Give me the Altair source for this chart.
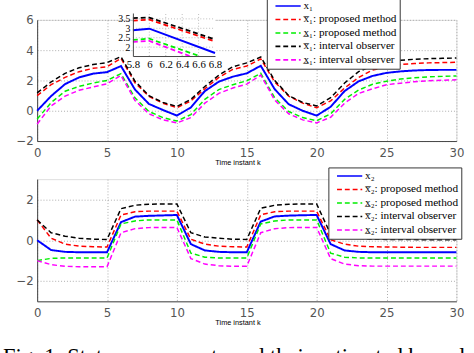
import altair as alt
import pandas as pd

k = list(range(31))

# ---- panel 1 (x1) ----
x1_true = [0, 0.97, 1.76, 2.2, 2.45, 2.55, 2.95, 1.4, 0.45, 0.05, -0.32, 0.22, 1.3, 1.92, 2.25, 2.47,
           2.97, 1.42, 0.43, 0.0, -0.32, 0.26, 1.3, 1.94, 2.3, 2.5, 2.6, 2.66, 2.69, 2.7, 2.7]
x1_up_pm = [1.0, 1.72, 2.2, 2.58, 2.8, 2.9, 3.45, 1.85, 0.95, 0.5, 0.2, 0.65, 1.45, 2.2, 2.73, 2.95,
            3.42, 1.9, 0.97, 0.5, 0.2, 0.65, 1.5, 2.2, 2.69, 2.9, 3.05, 3.12, 3.16, 3.18, 3.2]
x1_lo_pm = [-0.55, 0.54, 1.29, 1.61, 1.83, 2.0, 2.45, 0.85, -0.05, -0.45, -0.68, -0.25, 0.75, 1.4, 1.72, 1.98,
            2.47, 0.85, -0.05, -0.45, -0.66, -0.2, 0.75, 1.37, 1.75, 1.95, 2.1, 2.18, 2.24, 2.27, 2.3]
x1_up_io = [1.18, 1.9, 2.47, 2.84, 3.05, 3.18, 3.57, 1.95, 1.0, 0.55, 0.28, 0.75, 1.6, 2.35, 2.9, 3.16,
            3.55, 2.0, 1.0, 0.55, 0.32, 0.86, 1.83, 2.58, 2.97, 3.22, 3.33, 3.4, 3.44, 3.46, 3.48]
x1_lo_io = [-0.88, 0.32, 0.97, 1.35, 1.57, 1.78, 2.33, 0.68, -0.2, -0.6, -0.8, -0.45, 0.5, 1.15, 1.5, 1.76,
            2.35, 0.7, -0.2, -0.6, -0.8, -0.43, 0.5, 1.14, 1.45, 1.72, 1.82, 1.92, 1.98, 2.01, 2.04]

# inset (zoom of x1 around k = 6)
ins_k_true = [5.8, 6.0, 6.8]
ins_v_true = [2.9, 2.98, 1.69]
ins_k_up_pm = [5.8, 6.0, 6.8]
ins_v_up_pm = [3.41, 3.46, 2.3]
ins_k_lo_pm = [5.8, 6.0, 6.61]
ins_v_lo_pm = [2.38, 2.45, 1.53]
ins_k_up_io = [5.8, 6.0, 6.8]
ins_v_up_io = [3.54, 3.57, 2.41]
ins_k_lo_io = [5.8, 6.0, 6.49]
ins_v_lo_io = [2.28, 2.33, 1.53]
ins_xdom = [5.8, 6.8]
ins_ydom = [1.53, 3.81]
ins_xticks = [5.8, 6.0, 6.2, 6.4, 6.6, 6.8]
ins_yticks = [2.0, 2.5, 3.0, 3.5]

# ---- panel 2 (x2) ----
x2_true = [0, -0.48, -0.57, -0.59, -0.59, -0.59, 0.89, 1.16, 1.2, 1.22, 1.24, -0.19, -0.5, -0.57, -0.59, -0.59,
           0.92, 1.17, 1.21, 1.23, 1.24, -0.19, -0.5, -0.57, -0.59, -0.59, -0.59, -0.59, -0.59, -0.59, -0.59]
x2_up_pm = [1.0, 0.1, -0.19, -0.29, -0.32, -0.33, 1.24, 1.4, 1.43, 1.43, 1.43, 0.05, -0.19, -0.29, -0.32, -0.33,
            1.25, 1.4, 1.43, 1.43, 1.43, 0.02, -0.19, -0.29, -0.32, -0.33, -0.34, -0.35, -0.35, -0.35, -0.35]
x2_lo_pm = [-1.0, -0.89, -0.87, -0.87, -0.87, -0.87, 0.8, 0.95, 1.0, 1.0, 1.0, -0.63, -0.83, -0.87, -0.87, -0.87,
            0.8, 0.95, 1.0, 1.0, 1.0, -0.63, -0.83, -0.87, -0.87, -0.87, -0.87, -0.87, -0.87, -0.87, -0.87]
x2_up_io = [1.0, 0.37, 0.2, 0.1, 0.05, 0.04, 1.55, 1.72, 1.77, 1.78, 1.78, 0.37, 0.16, 0.1, 0.05, 0.04,
            1.57, 1.72, 1.77, 1.78, 1.78, 0.3, 0.16, 0.1, 0.05, 0.04, 0.03, 0.03, 0.02, 0.02, 0.02]
x2_lo_io = [-1.0, -1.2, -1.28, -1.3, -1.3, -1.3, 0.37, 0.57, 0.62, 0.63, 0.63, -0.9, -1.17, -1.25, -1.28, -1.28,
            0.37, 0.57, 0.62, 0.63, 0.63, -0.9, -1.17, -1.25, -1.27, -1.27, -1.27, -1.27, -1.27, -1.27, -1.27]

names1 = ["x\u2081", "x\u0305\u2081: proposed method", "x\u0332\u2081: proposed method",
          "x\u0305\u2081: interval observer", "x\u0332\u2081: interval observer"]
names2 = ["x\u2082", "x\u0305\u2082: proposed method", "x\u0332\u2082: proposed method",
          "x\u0305\u2082: interval observer", "x\u0332\u2082: interval observer"]
colors = ["#0000ff", "#ff0000", "#00ee00", "#000000", "#ff00ff"]
dashes = [[1, 0], [5, 3], [5, 3], [5, 3], [5, 3]]

caption = "Fig. 1: State components and their estimated bounds"
xlabel = "Time instant k"


def long_df(names, series, ks=None):
    rows = []
    for i, (n, vals) in enumerate(zip(names, series)):
        kk = ks[i] if ks is not None else k
        for a, v in zip(kk, vals):
            rows.append({"k": a, "v": v, "s": n, "c": colors[i]})
    return pd.DataFrame(rows)


df1 = long_df(names1, [x1_true, x1_up_pm, x1_lo_pm, x1_up_io, x1_lo_io])
df2 = long_df(names2, [x2_true, x2_up_pm, x2_lo_pm, x2_up_io, x2_lo_io])
dfi = long_df(names1, [ins_v_true, ins_v_up_pm, ins_v_lo_pm, ins_v_up_io, ins_v_lo_io],
              [ins_k_true, ins_k_up_pm, ins_k_lo_pm, ins_k_up_io, ins_k_lo_io])


def legend(x, y):
    return alt.Legend(title=None, orient="none", legendX=x, legendY=y, columns=1, direction="vertical",
                      symbolType="M-4.3,0H4.3", symbolSize=36, symbolStrokeWidth=1.6,
                      symbolOffset=13, labelOffset=10, labelLimit=200,
                      labelFont="Liberation Serif", labelFontSize=11.5, labelColor="black",
                      fillColor="white", strokeColor="#333",
                      padding=3, rowPadding=0.8)


def xaxis():
    return alt.Axis(values=list(range(0, 31, 5)), title=xlabel, titleFont="Liberation Sans",
                    titleFontSize=7.5, titleFontWeight="normal", titleColor="black",
                    titleY=22, titleX=205, titleBaseline="middle",
                    labelFont="DejaVu Sans", labelFontSize=12, labelColor="#555",
                    labelPadding=7, labelFlush=False, ticks=False, domainColor="#444",
                    gridDash=[1, 2], gridColor="#aaa")


def yaxis(vals):
    return alt.Axis(values=vals, title=None, labelFont="DejaVu Sans", labelFontSize=12,
                    labelColor="#555", labelPadding=4, ticks=False, domainColor="#444",
                    gridDash=[1, 2], gridColor="#aaa")


def panel_lines(df, names, ydom, yvals, leg):
    return alt.Chart(df).mark_line().encode(
        x=alt.X("k:Q", scale=alt.Scale(domain=[0, 30], nice=False), axis=xaxis()),
        y=alt.Y("v:Q", scale=alt.Scale(domain=ydom, nice=False), axis=yaxis(yvals)),
        color=alt.Color("s:N", scale=alt.Scale(domain=names, range=colors), legend=leg),
        strokeDash=alt.StrokeDash("s:N", scale=alt.Scale(domain=names, range=dashes), legend=leg),
        strokeWidth=alt.condition(alt.datum.s == names[0], alt.value(2), alt.value(1.5)),
    )


leg1 = legend(235, -23)
leg2 = legend(298, -12)

top_main = panel_lines(df1, names1, [-2, 6], [-2, 0, 2, 4, 6], leg1)

# inset
ixs = alt.Scale(domain=ins_xdom, range=[98, 182], nice=False, zero=False)
iys = alt.Scale(domain=ins_ydom, range=[37, -7], nice=False, zero=False)
ixa = alt.Axis(orient="bottom", offset=-87, values=ins_xticks, format="~g", zindex=1,
               grid=False, ticks=False, title=None, labelFont="Liberation Serif",
               labelFontSize=11, labelColor="black", labelOverlap=False,
               labelFlush=False, labelPadding=3, domainColor="#444")
iya = alt.Axis(orient="left", offset=-98, values=ins_yticks, format="~g", zindex=1,
               grid=False, ticks=False, title=None, labelFont="Liberation Serif", labelOverlap=False,
               labelFontSize=10, labelColor="black", labelPadding=3, domainColor="#444")

inset_bg = alt.Chart(pd.DataFrame({"a": [0]})).mark_rect(fill="white").encode(
    x=alt.X(datum=ins_xdom[0], scale=ixs, axis=ixa), x2=alt.X2(datum=ins_xdom[1]),
    y=alt.Y(datum=ins_ydom[0], scale=iys, axis=iya), y2=alt.Y2(datum=ins_ydom[1]))
inset_vgrid = alt.Chart(pd.DataFrame({"t": ins_xticks[1:-1]})).mark_rule(
    color="#aaa", strokeDash=[1, 2], strokeWidth=0.8).encode(
    x=alt.X("t:Q", scale=ixs, axis=ixa),
    y=alt.Y(datum=ins_ydom[0], scale=iys, axis=iya), y2=alt.Y2(datum=ins_ydom[1]))
inset_hgrid = alt.Chart(pd.DataFrame({"t": ins_yticks})).mark_rule(
    color="#aaa", strokeDash=[1, 2], strokeWidth=0.8).encode(
    y=alt.Y("t:Q", scale=iys, axis=iya),
    x=alt.X(datum=ins_xdom[0], scale=ixs, axis=ixa), x2=alt.X2(datum=ins_xdom[1]))

ienc = dict(
    x=alt.X("k:Q", scale=ixs, axis=ixa),
    y=alt.Y("v:Q", scale=iys, axis=iya),
    color=alt.Color("c:N", scale=None),
    detail="s:N",
)
inset_dashed = alt.Chart(dfi).transform_filter(alt.datum.s != names1[0]).mark_line(
    strokeWidth=1.8, strokeDash=[5, 3]).encode(**ienc)
inset_solid = alt.Chart(dfi).transform_filter(alt.datum.s == names1[0]).mark_line(strokeWidth=2).encode(**ienc)
inset = alt.layer(inset_bg, inset_vgrid, inset_hgrid, inset_dashed, inset_solid)

top = alt.layer(top_main, inset).resolve_scale(x="independent", y="independent").properties(width=429, height=124)

bottom = panel_lines(df2, names2, [-3, 3], [-2, 0, 2], leg2).properties(width=429, height=125)

chart = alt.vconcat(top, bottom, spacing=39, bounds="flush").resolve_scale(
    color="independent", strokeDash="independent"
).properties(
    title=alt.TitleParams(caption, orient="bottom", anchor="start", frame="group", dx=-35, offset=20,
                          font="Liberation Serif", fontSize=23, fontWeight="normal", color="black",
                          baseline="top"),
    padding={"left": 3, "top": -8, "right": 0, "bottom": 0},
).configure_view(strokeWidth=0).configure(background="white")

chart.save("out.html", embed_options={"renderer": "svg", "actions": False})
